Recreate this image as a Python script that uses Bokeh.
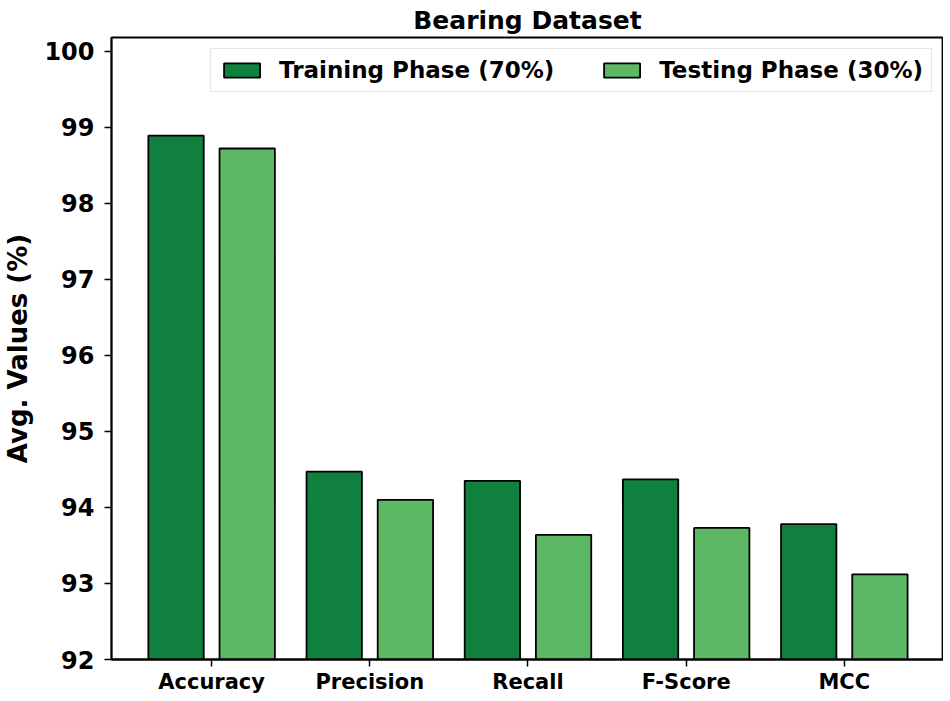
import numpy as np
from bokeh.plotting import figure
from bokeh.models import Range1d, FixedTicker, Legend, LegendItem, ColumnDataSource
from bokeh.embed import file_html
from bokeh.resources import INLINE

categories = ["Accuracy", "Precision", "Recall", "F-Score", "MCC"]
training = [98.89, 94.47, 94.35, 94.37, 93.78]
testing = [98.72, 94.10, 93.64, 93.73, 93.12]
series_names = ["Training Phase (70%)", "Testing Phase (30%)"]
y_ticks = [92, 93, 94, 95, 96, 97, 98, 99, 100]

FONT = "DejaVu Sans"
DARK = "#10803f"
LIGHT = "#5db863"

x = np.arange(len(categories))
bar_w = 0.35
off = 0.225

p = figure(frame_width=832, frame_height=622, output_backend="svg", toolbar_location=None,
           x_range=Range1d(-0.633, 4.627), y_range=Range1d(92, 100.18),
           title="Bearing Dataset", min_border_left=101, min_border_top=31,
           min_border_right=0, min_border_bottom=0)

src_tr = ColumnDataSource(dict(x=x - off, top=training))
src_te = ColumnDataSource(dict(x=x + off, top=testing))
r1 = p.vbar(x="x", top="top", bottom=92, width=bar_w, source=src_tr,
            fill_color=DARK, line_color="black", line_width=1.8)
r2 = p.vbar(x="x", top="top", bottom=92, width=bar_w, source=src_te,
            fill_color=LIGHT, line_color="black", line_width=1.8)

p.title.text_font = FONT
p.title.text_font_size = "25px"
p.title.text_font_style = "bold"
p.title.text_color = "black"
p.title.align = "center"
p.title.standoff = 6

p.grid.visible = False
p.outline_line_color = "black"
p.outline_line_width = 1.8

p.xaxis.ticker = FixedTicker(ticks=list(x))
p.xaxis.major_label_overrides = {int(i): c for i, c in zip(x, categories)}
p.yaxis.ticker = FixedTicker(ticks=y_ticks)
p.yaxis.axis_label = "Avg. Values (%)"
for ax in (p.xaxis[0], p.yaxis[0]):
    ax.major_label_text_font = FONT
    ax.major_label_text_font_style = "bold"
    ax.major_label_text_color = "black"
    ax.axis_line_color = "black"
    ax.axis_line_width = 1.8
    ax.major_tick_line_color = "black"
    ax.major_tick_line_width = 1.5
    ax.major_tick_out = 7
    ax.major_tick_in = 0
    ax.minor_tick_line_color = None
p.xaxis.major_label_text_font_size = "21px"
p.yaxis.major_label_text_font_size = "24px"
p.xaxis.major_label_standoff = 3
p.yaxis.major_label_standoff = 10
p.yaxis.axis_label_text_font = FONT
p.yaxis.axis_label_text_font_size = "26px"
p.yaxis.axis_label_text_font_style = "bold"
p.yaxis.axis_label_text_color = "black"
p.yaxis.axis_label_standoff = 8

legend = Legend(items=[LegendItem(label=series_names[0], renderers=[r1]),
                       LegendItem(label=series_names[1], renderers=[r2])],
                location="top_right", orientation="horizontal")
legend.label_text_font = FONT
legend.label_text_font_size = "23px"
legend.label_text_font_style = "bold"
legend.label_text_color = "black"
legend.glyph_width = 45
legend.glyph_height = 18
legend.label_standoff = 15
legend.spacing = 45
legend.padding = 8
legend.margin = 11
legend.border_line_color = "#cccccc"
legend.border_line_width = 1.5
legend.background_fill_alpha = 0.9
p.add_layout(legend, "center")

open("out.html", "w").write(file_html(p, INLINE))
